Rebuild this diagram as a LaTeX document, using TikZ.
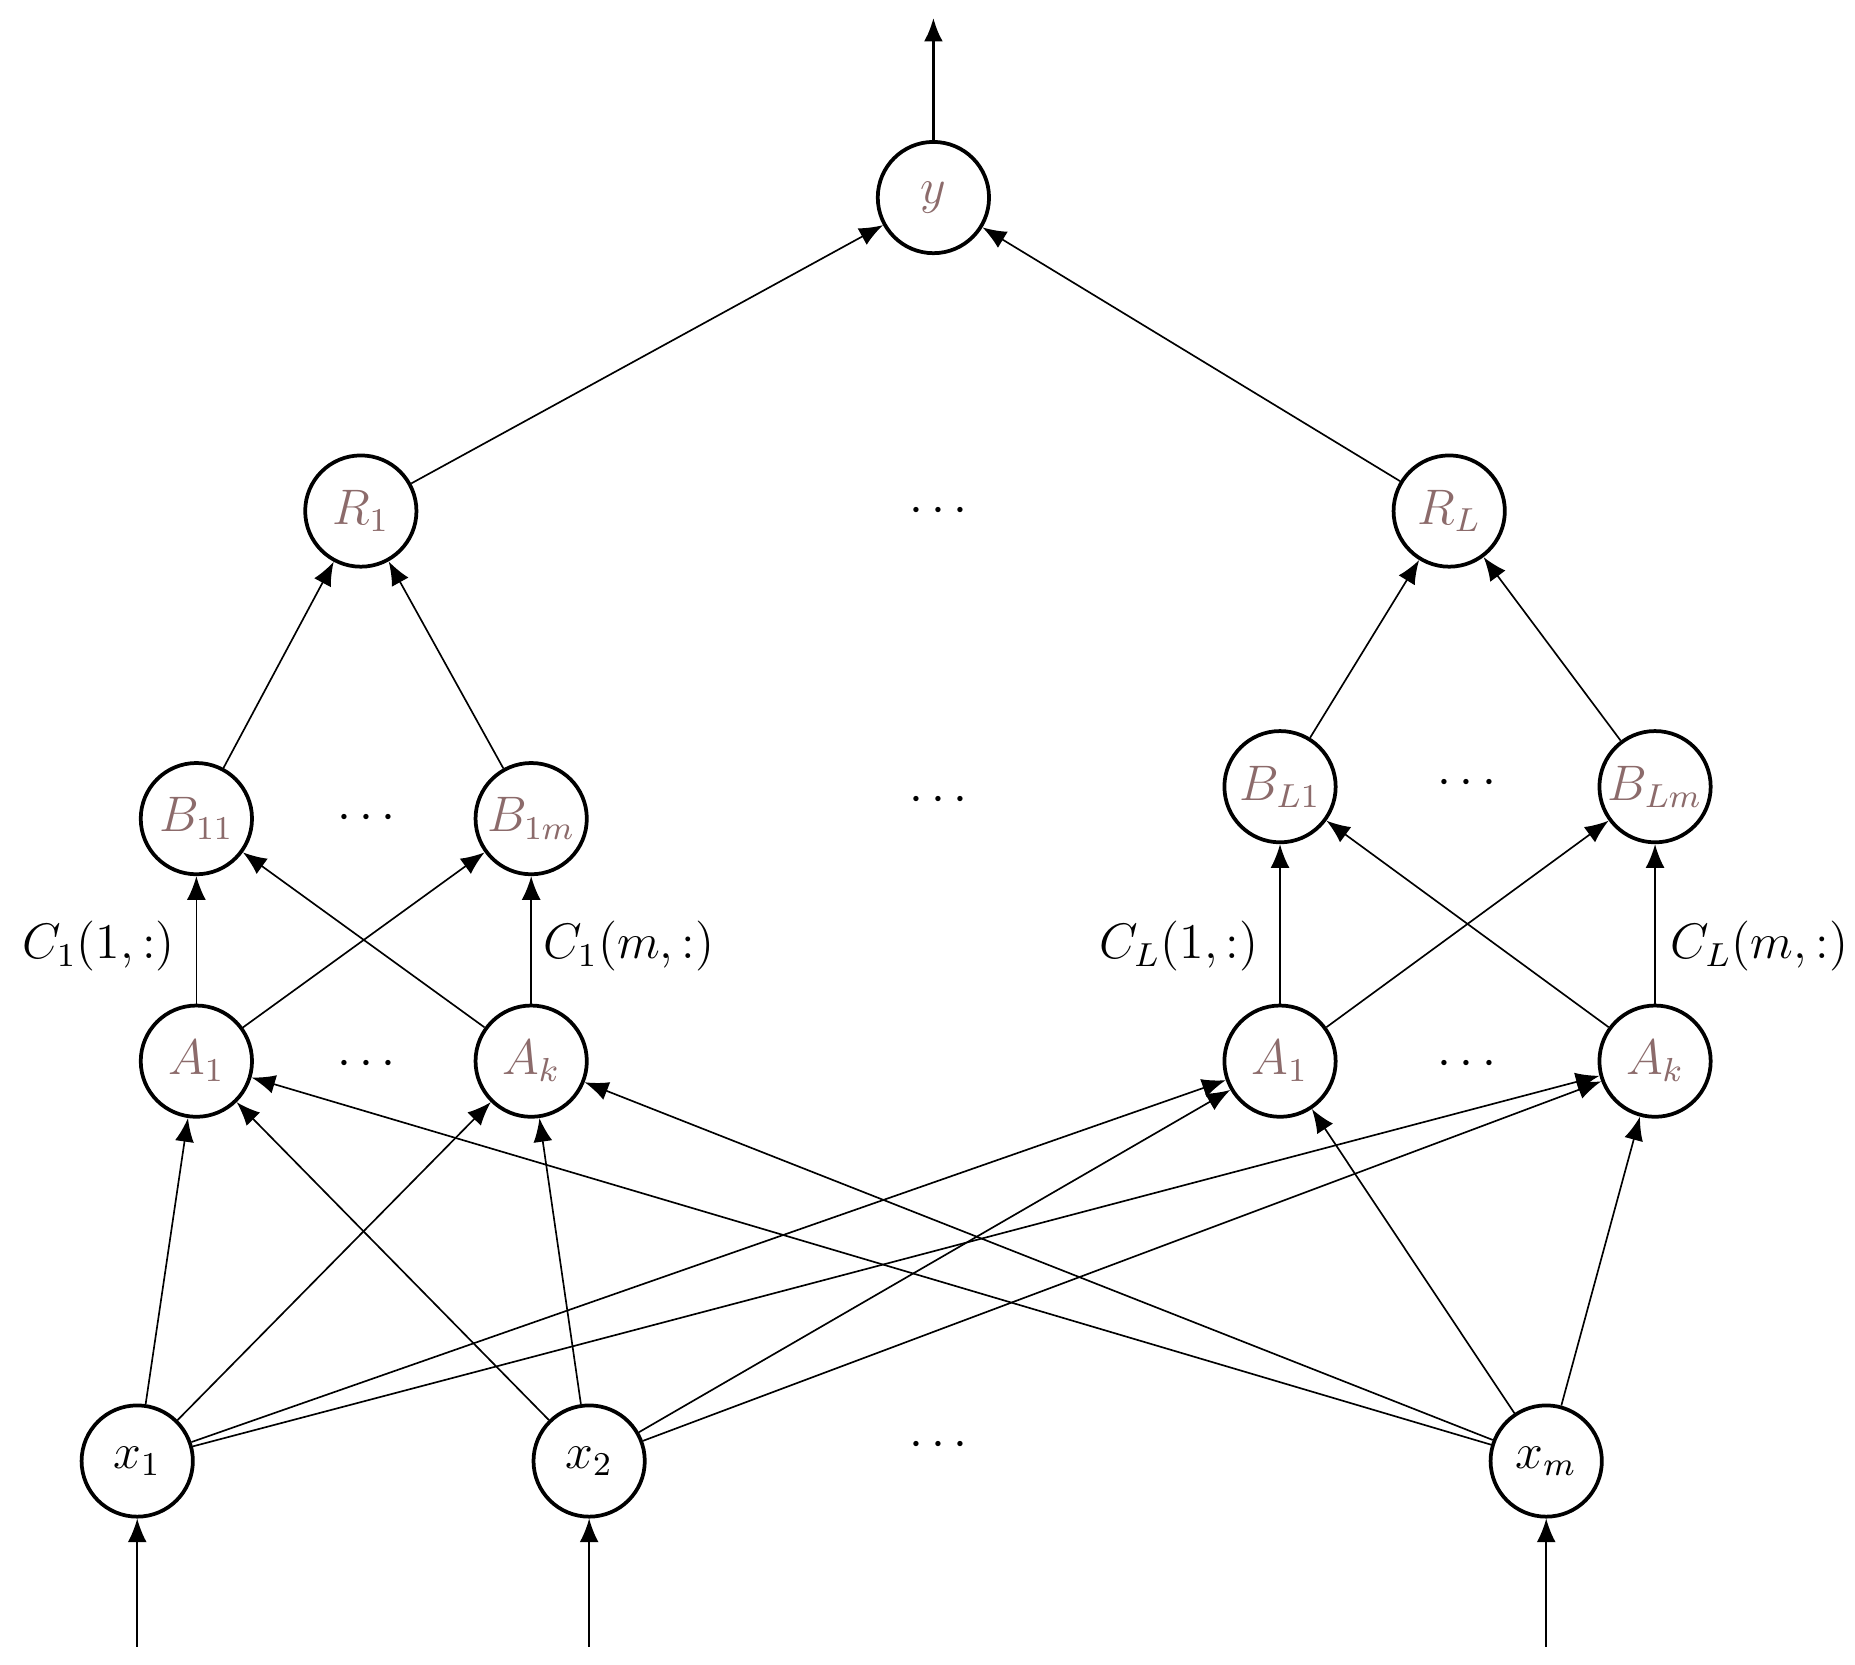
\documentclass[tikz,border=0pt]{standalone}
\usetikzlibrary{arrows.meta}
\definecolor{mauve}{HTML}{8C6B6B}
\begin{document}
\begin{tikzpicture}[x=0.01cm,y=-0.01cm,
  neuron/.style={circle,draw,line width=0.9pt,minimum size=0.94cm,inner sep=0pt,font=\large},
  edge/.style={-{Latex[length=2mm,width=1.6mm]},line width=0.4pt},
  dots/.style={font=\large},
  clabel/.style={font=\large,inner sep=1pt}]
\useasboundingbox (0,0) rectangle (1568,1407);
\node[neuron] (y) at (789,167) {\color{mauve}$y$};
\node[neuron] (R1) at (305,432) {\color{mauve}$R_1$};
\node[neuron] (RL) at (1225,432) {\color{mauve}$R_L$};
\node[neuron] (B11) at (166,692) {\color{mauve}$B_{11}$};
\node[neuron] (B1m) at (449,692) {\color{mauve}$B_{1m}$};
\node[neuron] (BL1) at (1082,665) {\color{mauve}$B_{L1}$};
\node[neuron] (BLm) at (1399,665) {\color{mauve}$B_{Lm}$};
\node[neuron] (A1) at (166,897) {\color{mauve}$A_1$};
\node[neuron] (Ak) at (449,897) {\color{mauve}$A_k$};
\node[neuron] (A1r) at (1082,897) {\color{mauve}$A_1$};
\node[neuron] (Akr) at (1399,897) {\color{mauve}$A_k$};
\node[neuron] (x1) at (116,1235) {$x_1$};
\node[neuron] (x2) at (498,1235) {$x_2$};
\node[neuron] (xm) at (1307,1235) {$x_m$};
\foreach \n/\p in {d1/{(793,432)},d2/{(793,677)},d3/{(310,692)},d4/{(310,900)},d5/{(1240,662)},d6/{(1240,900)},d7/{(793,1222)}}
  \node[dots] (\n) at \p {$\cdots$};
\node[clabel,anchor=east] (c1) at (152,800) {$C_1(1,:)$};
\node[clabel,anchor=west] (c2) at (455,800) {$C_1(m,:)$};
\node[clabel,anchor=east] (c3) at (1068,800) {$C_L(1,:)$};
\node[clabel,anchor=west] (c4) at (1408,800) {$C_L(m,:)$};
\coordinate (top) at (789,15);
\coordinate (b1) at (116,1392);
\coordinate (b2) at (498,1392);
\coordinate (b3) at (1307,1392);
\draw[edge,line width=0.8pt] (y) -- (top);
\draw[edge] (b1) -- (x1);
\draw[edge] (b2) -- (x2);
\draw[edge] (b3) -- (xm);
\foreach \s in {x1,x2,xm} \foreach \t in {A1,Ak,A1r,Akr} \draw[edge] (\s) -- (\t);
\foreach \s in {A1,Ak} \foreach \t in {B11,B1m} \draw[edge] (\s) -- (\t);
\foreach \s in {A1r,Akr} \foreach \t in {BL1,BLm} \draw[edge] (\s) -- (\t);
\draw[edge] (B11) -- (R1); \draw[edge] (B1m) -- (R1);
\draw[edge] (BL1) -- (RL); \draw[edge] (BLm) -- (RL);
\draw[edge] (R1) -- (y); \draw[edge] (RL) -- (y);
\end{tikzpicture}
\end{document}
